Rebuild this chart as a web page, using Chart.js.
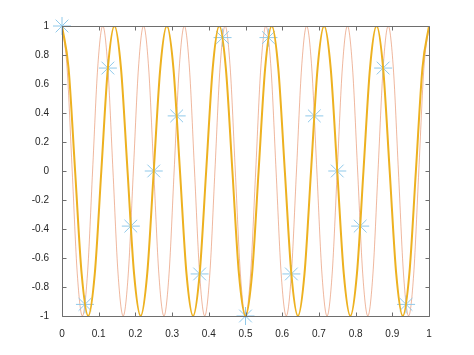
<!DOCTYPE html>
<html>
<head>
<meta charset="utf-8">
<script src="https://cdn.jsdelivr.net/npm/chart.js@4/dist/chart.umd.min.js"></script>
<style>
  body { margin: 0; background: #fff; }
  #wrap { width: 474px; height: 355px; position: relative; }
</style>
</head>
<body>
<div id="wrap"><canvas id="aliasPlot"></canvas></div>
<script>
// Sampled points (16 samples over one second)
const sampleT = [0, 0.0625, 0.125, 0.1875, 0.25, 0.3125, 0.375, 0.4375,
                 0.5, 0.5625, 0.625, 0.6875, 0.75, 0.8125, 0.875, 0.9375];
const sampleY = [1, -0.92, 0.71, -0.38, 0, 0.38, -0.71, 0.92,
                 -1, 0.92, -0.71, 0.38, 0, -0.38, 0.71, -0.92];

// Thick curve, read every 1/56 s
const slowStep = 1 / 56;
const slowY = [
  1, 0.71, 0, -0.71, -1, -0.71, 0, 0.71,
  1, 0.71, 0, -0.71, -1, -0.71, 0, 0.71,
  1, 0.71, 0, -0.71, -1, -0.71, 0, 0.71,
  1, 0.71, 0, -0.71, -1, -0.71, 0, 0.71,
  1, 0.71, 0, -0.71, -1, -0.71, 0, 0.71,
  1, 0.71, 0, -0.71, -1, -0.71, 0, 0.71,
  1, 0.71, 0, -0.71, -1, -0.71, 0, 0.71,
  1
];

// Thin curve, read every 1/72 s
const fastStep = 1 / 72;
const fastY = [
  1, 0.71, 0, -0.71, -1, -0.71, 0, 0.71,
  1, 0.71, 0, -0.71, -1, -0.71, 0, 0.71,
  1, 0.71, 0, -0.71, -1, -0.71, 0, 0.71,
  1, 0.71, 0, -0.71, -1, -0.71, 0, 0.71,
  1, 0.71, 0, -0.71, -1, -0.71, 0, 0.71,
  1, 0.71, 0, -0.71, -1, -0.71, 0, 0.71,
  1, 0.71, 0, -0.71, -1, -0.71, 0, 0.71,
  1, 0.71, 0, -0.71, -1, -0.71, 0, 0.71,
  1, 0.71, 0, -0.71, -1, -0.71, 0, 0.71,
  1
];

const xTicks = [0, 0.1, 0.2, 0.3, 0.4, 0.5, 0.6, 0.7, 0.8, 0.9, 1];
const yTicks = [-1, -0.8, -0.6, -0.4, -0.2, 0, 0.2, 0.4, 0.6, 0.8, 1];

const toPoints = (ys, step) => ys.map((y, i) => ({ x: i * step, y }));

// MATLAB-like box with inward tick marks
const boxTicks = {
  id: 'boxTicks',
  afterDatasetsDraw(chart) {
    const { ctx, chartArea: a, scales } = chart;
    const L = Math.round(a.left) + 0.5, R = Math.round(a.right) + 0.5;
    const T = Math.round(a.top) + 0.5, B = Math.round(a.bottom) + 0.5;
    const len = 4;
    ctx.save();
    ctx.strokeStyle = '#6e6e6e';
    ctx.lineWidth = 1;
    ctx.beginPath();
    ctx.rect(L, T, R - L, B - T);
    xTicks.forEach(v => {
      const px = Math.round(scales.x.getPixelForValue(v)) + 0.5;
      ctx.moveTo(px, B); ctx.lineTo(px, B - len);
      ctx.moveTo(px, T); ctx.lineTo(px, T + len);
    });
    yTicks.forEach(v => {
      const py = Math.round(scales.y.getPixelForValue(v)) + 0.5;
      ctx.moveTo(L, py); ctx.lineTo(L + len, py);
      ctx.moveTo(R, py); ctx.lineTo(R - len, py);
    });
    ctx.stroke();
    ctx.restore();
  }
};

new Chart(document.getElementById('aliasPlot'), {
  type: 'line',
  data: {
    datasets: [
      {
        label: 'slow',
        data: toPoints(slowY, slowStep),
        borderColor: '#EDB120',
        borderWidth: 2,
        pointRadius: 0,
        cubicInterpolationMode: 'monotone'
      },
      {
        label: 'samples',
        type: 'scatter',
        data: sampleT.map((t, i) => ({ x: t, y: sampleY[i] })),
        pointStyle: 'star',
        pointRadius: 9,
        pointBorderWidth: 1,
        borderColor: '#8fc9ea',
        backgroundColor: '#8fc9ea',
        showLine: false,
        clip: false
      },
      {
        label: 'fast',
        data: toPoints(fastY, fastStep),
        borderColor: 'rgba(217, 83, 25, 0.42)',
        borderWidth: 1,
        pointRadius: 0,
        cubicInterpolationMode: 'monotone'
      }
    ]
  },
  options: {
    responsive: true,
    maintainAspectRatio: false,
    animation: false,
    layout: { padding: { top: 26, right: 45, left: 0, bottom: 0 } },
    plugins: { legend: { display: false }, tooltip: { enabled: false } },
    scales: {
      x: {
        type: 'linear',
        min: 0, max: 1,
        grid: { display: false },
        border: { display: false },
        afterBuildTicks: s => { s.ticks = xTicks.map(v => ({ value: v })); },
        afterFit: s => { s.height = 39; },
        ticks: {
          color: '#262626',
          font: { family: "'Liberation Sans', Arial, sans-serif", size: 10 },
          padding: 4,
          maxRotation: 0,
          callback: v => String(v)
        }
      },
      y: {
        type: 'linear',
        min: -1, max: 1,
        grid: { display: false },
        border: { display: false },
        afterBuildTicks: s => { s.ticks = yTicks.map(v => ({ value: v })); },
        afterFit: s => { s.width = 62; },
        ticks: {
          color: '#262626',
          font: { family: "'Liberation Sans', Arial, sans-serif", size: 10 },
          padding: 5,
          callback: v => String(v)
        }
      }
    }
  },
  plugins: [boxTicks]
});
</script>
</body>
</html>
